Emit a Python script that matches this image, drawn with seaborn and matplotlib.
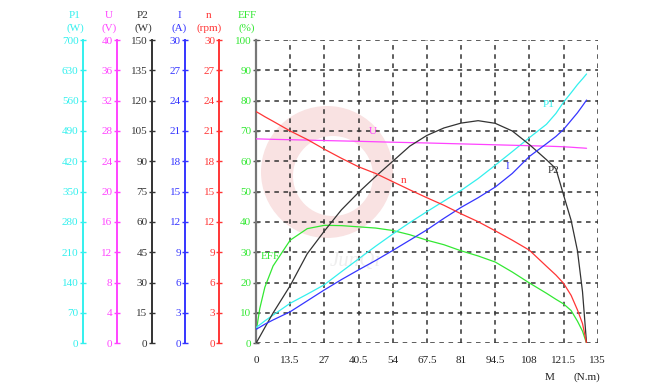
import matplotlib
matplotlib.use("Agg")
import matplotlib.pyplot as plt
from matplotlib.patches import Ellipse
import seaborn as sns
import numpy as np

# ---------------- data ----------------
torque = [0, 1.5, 3.5, 6.75, 13.5, 20.25, 27, 33.75, 40.5, 47.25, 54, 60.75, 67.5,
          74.25, 81, 87.75, 94.5, 101.25, 108, 114.75, 118.5, 121.5, 124.5, 127, 129, 130.6]

p1_w = [36.4, 42.7, 51.8, 65.1, 92.4, 113.4, 135.1, 165.2, 194.6, 224.0, 252.0, 278.6, 303.8,
        328.3, 352.8, 380.1, 410.9, 442.4, 474.6, 505.4, 530.6, 556.5, 578.2, 597.1, 610.4, 621.6]

u_v = [26.96, 26.95, 26.93, 26.90, 26.85, 26.80, 26.74, 26.69, 26.64, 26.58, 26.52, 26.47, 26.42,
       26.36, 26.30, 26.24, 26.18, 26.12, 26.06, 26.00, 25.96, 25.92, 25.86, 25.80, 25.76, 25.72]

p2_w = [0, 3.3, 7.8, 15.0, 28.5, 44.3, 55.5, 66.0, 74.6, 82.5, 90.0, 97.5, 102.8,
        106.5, 108.9, 110.1, 108.8, 105.0, 98.3, 90.8, 86.3, 73.4, 60.8, 45.8, 25.5, 0]

i_a = [1.38, 1.59, 1.89, 2.31, 3.12, 4.20, 5.28, 6.30, 7.26, 8.19, 9.18, 10.20, 11.22,
       12.36, 13.44, 14.40, 15.45, 16.80, 18.48, 19.74, 20.46, 21.15, 22.05, 22.80, 23.49, 24.06]

n_rpm = [22.92, 22.71, 22.41, 21.96, 21.00, 20.16, 19.20, 18.30, 17.46, 16.80, 15.99, 15.18, 14.40,
         13.65, 12.81, 12.03, 11.13, 10.20, 9.21, 7.62, 6.75, 5.94, 4.74, 3.30, 1.95, 0]

eff_pct = [3.5, 11.5, 18.5, 25.5, 34.0, 37.8, 38.9, 38.8, 38.4, 38.0, 37.2, 35.8, 34.0,
           32.5, 30.5, 28.8, 26.8, 23.5, 19.9, 16.5, 14.5, 13.0, 10.8, 7.3, 4.0, 0]

x_ticks = [0, 13.5, 27, 40.5, 54, 67.5, 81, 94.5, 108, 121.5, 135]
x_tick_labels = ["0", "13.5", "27", "40.5", "54", "67.5", "81", "94.5", "108", "121.5", "135"]

# axis definitions: name, unit, max, step
axes_spec = [
    ("P1", "(W)", 700, 70),
    ("U", "(V)", 40, 4),
    ("P2", "(W)", 150, 15),
    ("I", "(A)", 30, 3),
    ("n", "(rpm)", 30, 3),
]

# ---------------- style ----------------
sns.set_style("white")
plt.rcParams["font.family"] = ["Liberation Serif", "DejaVu Serif"]

C_P1 = "#33f0ee"
C_U = "#ff44ff"
C_P2 = "#333333"
C_I = "#3535ff"
C_N = "#ff3535"
C_EFF = "#33e833"
colors = [C_P1, C_U, C_P2, C_I, C_N]
series = [p1_w, u_v, p2_w, i_a, n_rpm]

W, H = 650, 388
fig = plt.figure(figsize=(6.5, 3.88), dpi=100)
ax_l, ax_r, ax_t, ax_b = 256, 597.7, 40, 343.3
ax = fig.add_axes([ax_l / W, 1 - ax_b / H, (ax_r - ax_l) / W, (ax_b - ax_t) / H])
ax_w = ax_r - ax_l

ax.set_xlim(0, 135)
ax.set_ylim(0, 100)
ax.set_xticks(x_ticks)
ax.set_xticklabels(x_tick_labels)
ax.set_yticks(np.arange(0, 101, 10))
ax.tick_params(axis="x", length=0, pad=9, labelsize=8, colors="#222222")
ax.tick_params(axis="y", direction="inout", length=4, width=1, color="#555555",
               labelsize=8, labelcolor=C_EFF, pad=1.5, left=True)
ax.set_axisbelow(True)
ax.grid(True, linestyle=(0, (3, 3)), color="#333333", linewidth=1.1)
for s in ("top", "right", "bottom"):
    ax.spines[s].set_visible(False)
ax.spines["left"].set_color("#777777")
ax.spines["left"].set_linewidth(1.6)
ax.spines["left"].set_zorder(3)

# faint watermark logo
ux = 135 / ax_w
uy = 100 / (ax_b - ax_t)
cx, cy = (327 - ax_l) * ux, (ax_b - 172) * uy
ax.add_patch(Ellipse((cx, cy), 2 * 66 * ux, 2 * 66 * uy, color="#f9e2e2", zorder=0.2, lw=0))
ax.add_patch(Ellipse((cx + 6 * ux, cy - 4 * uy), 2 * 40 * ux, 2 * 40 * uy, color="white", zorder=0.3, lw=0))
ax.text(29, 25.5, "JunQi", color="#eeeeee", fontsize=15, style="italic", zorder=0.4)

# efficiency curve on main axis
sns.lineplot(x=torque, y=eff_pct, ax=ax, color=C_EFF, linewidth=0.9, estimator=None, legend=False)
ax.set_xlabel("")
ax.set_ylabel("")

# secondary axes on the left
axis_px = [82.7, 116.7, 151.7, 185.0, 219.3]
head_px = [75, 109, 143, 179, 209]
for (name, unit, vmax, step), px, hx, col, data in zip(axes_spec, axis_px, head_px, colors, series):
    tw = ax.twinx()
    tw.set_ylim(0, vmax)
    tw.set_yticks(np.arange(0, vmax + step / 2, step))
    tw.yaxis.set_ticks_position("left")
    tw.yaxis.set_label_position("left")
    for s in ("top", "right", "bottom"):
        tw.spines[s].set_visible(False)
    tw.spines["left"].set_visible(True)
    tw.spines["left"].set_position(("axes", (px - ax_l) / ax_w))
    tw.spines["left"].set_color(col)
    tw.spines["left"].set_linewidth(1.4)
    tw.tick_params(axis="y", direction="inout", length=4, width=1, color=col,
                   labelcolor=col, labelsize=8, pad=1)
    sns.lineplot(x=torque, y=data, ax=tw, color=col, linewidth=0.9, estimator=None, legend=False)
    tw.set_ylabel("")
    tw.set_xlabel("")
    tw.set_xlim(0, 135)
    fig.text(hx / W, 1 - 16 / H, name, color=col, fontsize=8, ha="center", va="center")
    fig.text(hx / W, 1 - 28.5 / H, unit, color=col, fontsize=8, ha="center", va="center")

fig.text(247 / W, 1 - 16 / H, "EFF", color=C_EFF, fontsize=8, ha="center", va="center")
fig.text(247 / W, 1 - 28.5 / H, "(%)", color=C_EFF, fontsize=8, ha="center", va="center")

# curve labels (on main axis scale)
labels = [("P1", 115.5, 78.6, C_P1), ("I", 99.5, 58.2, C_I), ("P2", 117.6, 57.1, C_P2),
          ("n", 58.3, 53.8, C_N), ("U", 46.0, 69.8, C_U), ("EFF", 5.6, 28.5, C_EFF)]
for t, x, y, c in labels:
    ax.text(x, y, t, color=c, fontsize=8, ha="center", va="center", zorder=5)

fig.text(550 / W, 1 - 377 / H, "M", color="#222222", fontsize=8, ha="center", va="center")
fig.text(587 / W, 1 - 377 / H, "(N.m)", color="#222222", fontsize=8, ha="center", va="center")

fig.savefig("out.png", dpi=100, facecolor="white")
